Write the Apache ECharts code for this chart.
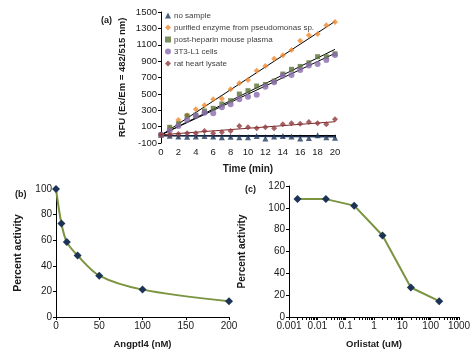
<!DOCTYPE html>
<html>
<head>
<meta charset="utf-8">
<script src="https://cdn.jsdelivr.net/npm/echarts@6/dist/echarts.min.js"></script>
<style>
  html, body { margin: 0; padding: 0; background: #fff; }
  #chart { width: 474px; height: 351px; }
</style>
</head>
<body>
<div id="chart"></div>
<script>
// (a) fluorescence vs time
var timeMin = [0, 1, 2, 3, 4, 5, 6, 7, 8, 9, 10, 11, 12, 13, 14, 15, 16, 17, 18, 19, 20];
var noSample = [0, -10, -20, -25, -20, -15, -20, -30, -25, -30, -30, -15, -45, -20, -15, -20, -45, -40, -5, -30, -35];
var purified = [0, 80, 181, 240, 311, 360, 433, 441, 555, 629, 669, 783, 840, 930, 971, 1036, 1149, 1215, 1231, 1337, 1377];
var postHeparin = [0, 92, 135, 230, 240, 291, 323, 376, 417, 498, 539, 596, 615, 657, 742, 800, 835, 880, 954, 954, 990];
var cells3T3 = [0, 50, 108, 181, 233, 270, 263, 336, 373, 433, 465, 490, 587, 641, 722, 730, 791, 848, 865, 913, 974];
var ratHeart = [0, 0, 10, 20, 20, 47, 18, 31, 47, 108, 92, 79, 92, 79, 128, 140, 135, 156, 140, 128, 189];
// trend line ends: [value at t=0, value at t=20]
var trendNoSample = [-10, -25];
var trendPurified = [-5, 1385];
var trendPostHeparin = [0, 1044];
var trend3T3 = [0, 995];
var trendRatHeart = [0, 160];

// (b) Angptl4 inhibition
var angptl4 = [0, 6.25, 12.5, 25, 50, 100, 200];
var activityB = [100, 73, 58.5, 48, 32.3, 21.4, 12.3];

// (c) Orlistat inhibition
var orlistat = [0.002, 0.02, 0.2, 2, 20, 200];
var activityC = [108, 108, 102, 74.6, 27, 14.5];

var font = 'Liberation Sans, Arial, sans-serif';

function pairs(xs, ys) {
  return xs.map(function (x, i) { return [x, ys[i]]; });
}
function trend(ends) {
  return [[timeMin[0], ends[0]], [timeMin[timeMin.length - 1], ends[1]]];
}

var chart = echarts.init(document.getElementById('chart'));

var axisLine = { lineStyle: { color: '#000', width: 1 } };
var tickOut = { show: true, length: 3, lineStyle: { color: '#000' } };
var lbl = function (size) {
  return { fontFamily: font, fontSize: size, color: '#1a1a1a', margin: 4, formatter: function (v) { return String(v); } };
};
var nameStyle = function (size) {
  return { fontFamily: font, fontSize: size, fontWeight: 'bold', color: '#1a1a1a' };
};
var panelLabel = { fontFamily: font, fontSize: 9, fontWeight: 'bold', color: '#1a1a1a' };

var scatterBase = { type: 'scatter', xAxisIndex: 0, yAxisIndex: 0, symbolSize: 5, z: 3 };
var trendBase = {
  type: 'line', xAxisIndex: 0, yAxisIndex: 0, symbol: 'none', silent: true, z: 2
};

var option = {
  animation: false,
  backgroundColor: '#fff',
  textStyle: { fontFamily: font },
  title: [
    { text: '(a)', left: 96, top: 11, textStyle: panelLabel },
    { text: '(b)', left: 10, top: 185, textStyle: panelLabel },
    { text: '(c)', left: 240, top: 180, textStyle: panelLabel }
  ],
  legend: {
    orient: 'vertical',
    left: 165,
    top: 11,
    itemGap: 3,
    itemWidth: 6,
    itemHeight: 6,
    padding: 0,
    textStyle: {
      fontFamily: 'Liberation Sans Narrow, Liberation Sans, sans-serif', fontSize: 8, lineHeight: 9,
      color: '#404040', padding: [0, 0, 0, -2]
    },
    data: ['no sample', 'purified enzyme from pseudomonas sp.', 'post-heparin mouse plasma', '3T3-L1 cells', 'rat heart lysate']
  },
  grid: [
    { left: 161, top: 12, width: 174, height: 131 },
    { left: 56, top: 189, width: 173, height: 128 },
    { left: 289, top: 186, width: 170, height: 131 }
  ],
  xAxis: [
    {
      gridIndex: 0, type: 'value', min: 0, max: 20, interval: 2,
      name: 'Time (min)', nameLocation: 'middle', nameGap: 21, nameTextStyle: nameStyle(10),
      axisLine: axisLine, axisTick: tickOut, axisLabel: lbl(9.5), splitLine: { show: false }
    },
    {
      gridIndex: 1, type: 'value', min: 0, max: 200, interval: 50,
      name: 'Angptl4 (nM)', nameLocation: 'middle', nameGap: 22, nameTextStyle: nameStyle(9.5),
      axisLine: axisLine, axisTick: tickOut, axisLabel: lbl(10), splitLine: { show: false }
    },
    {
      gridIndex: 2, type: 'log', min: 0.001, max: 1000, logBase: 10,
      name: 'Orlistat (uM)', nameLocation: 'middle', nameGap: 22, nameTextStyle: nameStyle(9.5),
      axisLine: axisLine, axisTick: tickOut, minorTick: { show: true, splitNumber: 9, length: 3, lineStyle: { color: '#000' } },
      axisLabel: Object.assign(lbl(10), {
        formatter: function (v) { return String(+v.toPrecision(3)); }
      }),
      splitLine: { show: false }, minorSplitLine: { show: false }
    }
  ],
  yAxis: [
    {
      gridIndex: 0, type: 'value', min: -100, max: 1500, interval: 200,
      name: 'RFU (Ex/Em = 482/515 nm)', nameLocation: 'middle', nameGap: 34, nameTextStyle: nameStyle(9.5),
      axisLine: axisLine, axisTick: tickOut, axisLabel: lbl(9.5), splitLine: { show: false }
    },
    {
      gridIndex: 1, type: 'value', min: 0, max: 100, interval: 20,
      name: 'Percent activity', nameLocation: 'middle', nameGap: 32, nameTextStyle: nameStyle(10.5),
      axisLine: axisLine, axisTick: tickOut, axisLabel: lbl(10), splitLine: { show: false }
    },
    {
      gridIndex: 2, type: 'value', min: 0, max: 120, interval: 20,
      name: 'Percent activity', nameLocation: 'middle', nameGap: 42, nameTextStyle: nameStyle(10),
      axisLine: axisLine, axisTick: tickOut, axisLabel: lbl(10), splitLine: { show: false }
    }
  ],
  series: [
    Object.assign({}, trendBase, { name: 'trend no sample', data: trend(trendNoSample), lineStyle: { color: '#1f2d4d', width: 1.5 } }),
    Object.assign({}, trendBase, { name: 'trend purified', data: trend(trendPurified), lineStyle: { color: '#000', width: 1 } }),
    Object.assign({}, trendBase, { name: 'trend post-heparin', data: trend(trendPostHeparin), lineStyle: { color: '#000', width: 1 } }),
    Object.assign({}, trendBase, { name: 'trend 3T3', data: trend(trend3T3), lineStyle: { color: '#000', width: 1 } }),
    Object.assign({}, trendBase, { name: 'trend rat heart', data: trend(trendRatHeart), lineStyle: { color: '#7a2a2a', width: 1 } }),
    Object.assign({}, scatterBase, { name: 'no sample', symbol: 'triangle', symbolSize: 6, data: pairs(timeMin, noSample), itemStyle: { color: '#1f3a5f' } }),
    Object.assign({}, scatterBase, { name: 'purified enzyme from pseudomonas sp.', symbol: 'diamond', symbolSize: 6, data: pairs(timeMin, purified), itemStyle: { color: '#f08a30' } }),
    Object.assign({}, scatterBase, { name: 'post-heparin mouse plasma', symbol: 'rect', symbolSize: 5, data: pairs(timeMin, postHeparin), itemStyle: { color: '#5a7236' } }),
    Object.assign({}, scatterBase, { name: '3T3-L1 cells', symbol: 'circle', symbolSize: 6, data: pairs(timeMin, cells3T3), itemStyle: { color: '#8a6cb0' } }),
    Object.assign({}, scatterBase, { name: 'rat heart lysate', symbol: 'diamond', symbolSize: 6, data: pairs(timeMin, ratHeart), itemStyle: { color: '#8e3a3c' } }),
    {
      name: 'Angptl4', type: 'line', xAxisIndex: 1, yAxisIndex: 1, smooth: 0.3,
      data: pairs(angptl4, activityB), symbol: 'diamond', symbolSize: 8,
      lineStyle: { color: '#7a9440', width: 2 }, itemStyle: { color: '#1c3356' }
    },
    {
      name: 'Orlistat', type: 'line', xAxisIndex: 2, yAxisIndex: 2,
      data: pairs(orlistat, activityC), symbol: 'diamond', symbolSize: 8,
      lineStyle: { color: '#7a9440', width: 2 }, itemStyle: { color: '#1c3356' }
    }
  ]
};

chart.setOption(option);
</script>
</body>
</html>
